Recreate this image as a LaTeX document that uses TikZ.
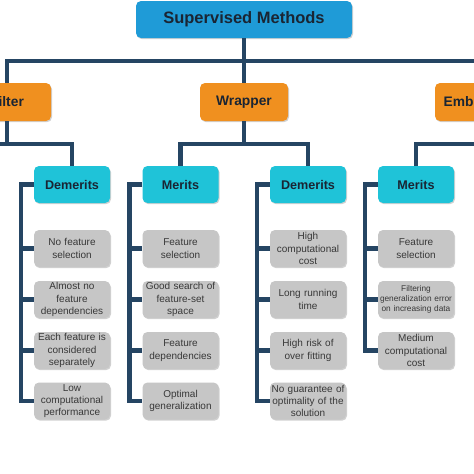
\documentclass[tikz,border=0pt]{standalone}
\usepackage{fontspec}
\setmainfont{Liberation Sans}
\usetikzlibrary{shadows}
\definecolor{topblue}{HTML}{1F9BD7}
\definecolor{catorange}{HTML}{F0901F}
\definecolor{subcyan}{HTML}{1FC3D8}
\definecolor{itemgray}{HTML}{C6C6C6}
\definecolor{linenavy}{HTML}{254563}
\definecolor{titletext}{HTML}{1A2533}
\definecolor{itemtext}{HTML}{383838}
\begin{document}
\begin{tikzpicture}[x=1pt,y=-1pt,
  boxshadow/.style={drop shadow={shadow xshift=1pt,shadow yshift=-1.2pt,fill=black,opacity=0.18}},
  topbox/.style={fill=topblue,rounded corners=5pt,minimum width=216pt,minimum height=37pt,inner sep=0pt,
    font=\fontsize{16.5}{19}\selectfont\bfseries,text=titletext,boxshadow},
  catbox/.style={fill=catorange,rounded corners=5pt,minimum width=88pt,minimum height=38pt,inner sep=0pt,
    font=\fontsize{13.8}{16}\selectfont\bfseries,text=titletext,boxshadow},
  subbox/.style={fill=subcyan,rounded corners=5pt,minimum width=76pt,minimum height=37pt,inner sep=0pt,
    font=\fontsize{12.6}{15}\selectfont\bfseries,text=titletext,boxshadow},
  itembox/.style={fill=itemgray,rounded corners=5pt,minimum width=76pt,minimum height=37pt,inner sep=0pt,
    text width=74pt,align=center,font=\fontsize{10}{12.3}\selectfont,text=itemtext,boxshadow},
  smallitem/.style={itembox,font=\fontsize{8.3}{10}\selectfont},
  conn/.style={draw=linenavy,line width=4.6pt,line join=miter}
]
\useasboundingbox (0,0) rectangle (474,474);
\clip (0,0) rectangle (474,474);
\fill[white] (0,0) rectangle (474,474);

% level coordinates
\coordinate (j0) at (0,61);
\coordinate (j1) at (0,144);
\coordinate (fmx) at (-56,166);
\coordinate (edx) at (543,166);

% connectors (drawn first, boxes on top)
\path (244,19.5) coordinate (smc);

% nodes
\node[topbox] (sm) at (244,19.5) {Supervised Methods};
\node[catbox] (filt) at (7,102) {Filter};
\node[catbox] (wrap) at (244,102) {Wrapper};
\node[catbox] (emb) at (479,102) {Embedded};

\node[subbox] (fd) at (72,184.5) {Demerits};
\node[subbox] (wm) at (180.5,184.5) {Merits};
\node[subbox] (wd) at (308,184.5) {Demerits};
\node[subbox] (em) at (416,184.5) {Merits};

\node[itembox] (fd1) at (72,248.5) {No feature\\selection};
\node[itembox] (fd2) at (72,299.5) {Almost no\\feature\\dependencies};
\node[itembox] (fd3) at (72,350.5) {Each feature is\\considered\\separately};
\node[itembox] (fd4) at (72,401) {Low\\computational\\performance};

\node[itembox] (wm1) at (180.5,248.5) {Feature\\selection};
\node[itembox] (wm2) at (180.5,299.5) {Good search of\\feature-set\\space};
\node[itembox] (wm3) at (180.5,350.5) {Feature\\dependencies};
\node[itembox] (wm4) at (180.5,401) {Optimal\\generalization};

\node[itembox] (wd1) at (308,248.5) {High\\computational\\cost};
\node[itembox] (wd2) at (308,299.5) {Long running\\time};
\node[itembox] (wd3) at (308,350.5) {High risk of\\over fitting};
\node[itembox] (wd4) at (308,401) {No guarantee of\\optimality of the\\solution};

\node[itembox] (em1) at (416,248.5) {Feature\\selection};
\node[smallitem] (em2) at (416,299.5) {Filtering\\generalization error\\on increasing data};
\node[itembox] (em3) at (416,350.5) {Medium\\computational\\cost};

\begin{scope}[on background layer/.try]
\end{scope}

% top level connectors
\draw[conn] (sm.south) -- (wrap.north);
\draw[conn] (filt.north) -- (filt.north |- j0) -- (emb.north |- j0) -- (emb.north);

% category to sub connectors
\draw[conn] (filt.south) -- (filt.south |- j1);
\draw[conn] (fmx |- j1) -- (fd.north |- j1) -- (fd.north);
\draw[conn] (wrap.south) -- (wrap.south |- j1);
\draw[conn] (wm.north) -- (wm.north |- j1) -- (wd.north |- j1) -- (wd.north);
\draw[conn] (emb.south) -- (emb.south |- j1);
\draw[conn] (em.north) -- (em.north |- j1) -- (edx |- j1);

% rails
\draw[conn] (fd.west) -| ([xshift=-13pt]fd4.west) -- (fd4.west);
\foreach \n in {fd1,fd2,fd3} \draw[conn] ([xshift=-13pt]\n.west) -- (\n.west);
\draw[conn] (wm.west) -| ([xshift=-13pt]wm4.west) -- (wm4.west);
\foreach \n in {wm1,wm2,wm3} \draw[conn] ([xshift=-13pt]\n.west) -- (\n.west);
\draw[conn] (wd.west) -| ([xshift=-13pt]wd4.west) -- (wd4.west);
\foreach \n in {wd1,wd2,wd3} \draw[conn] ([xshift=-13pt]\n.west) -- (\n.west);
\draw[conn] (em.west) -| ([xshift=-13pt]em3.west) -- (em3.west);
\foreach \n in {em1,em2} \draw[conn] ([xshift=-13pt]\n.west) -- (\n.west);
\end{tikzpicture}
\end{document}
